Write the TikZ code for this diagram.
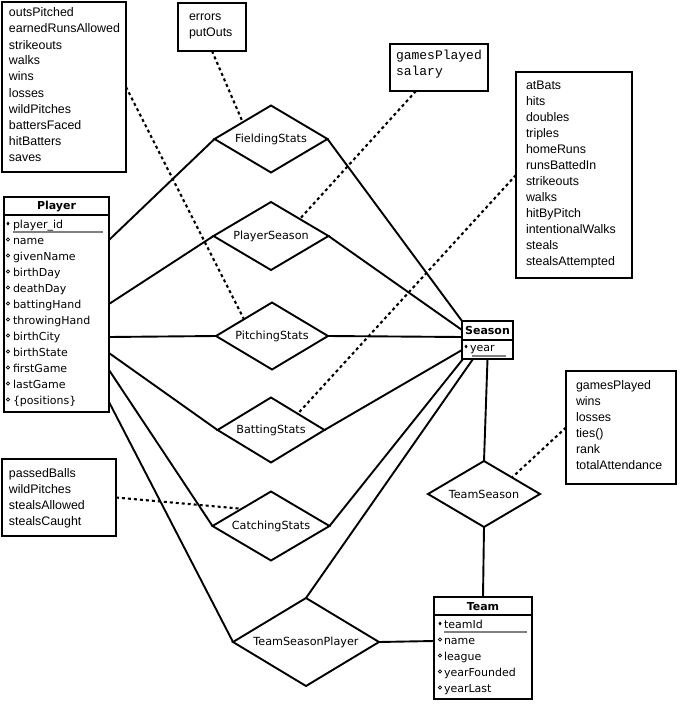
\documentclass[tikz,border=0pt]{standalone}
\usepackage{fontspec}
\setmainfont{DejaVu Sans}
\newfontfamily\attrfont{Liberation Sans}
\newfontfamily\monofnt{Liberation Mono}
\usetikzlibrary{shapes.geometric}
\begin{document}
\begin{tikzpicture}[x=1pt,y=-1pt,
  every node/.style={inner sep=0pt, outer sep=0pt},
  box/.style={draw, line width=1.9pt, rectangle},
  rel/.style={draw, diamond, line width=1.9pt, aspect=1.7, font=\fontsize{11.2}{13}\selectfont},
  conn/.style={line width=1.9pt},
  dconn/.style={line width=2.1pt, dash pattern=on 3pt off 3pt},
  row/.style={anchor=west, font=\fontsize{11}{13}\selectfont, text height=8pt, text depth=2.5pt},
  arow/.style={anchor=west, font=\attrfont\fontsize{12.4}{14}\selectfont, text height=8.5pt, text depth=2.5pt},
  mrow/.style={anchor=west, font=\monofnt\fontsize{13}{15}\selectfont, text height=8pt, text depth=2.5pt},
  titl/.style={font=\bfseries\fontsize{11}{13}\selectfont},
  keyline/.style={draw=gray, line width=1.5pt},
  bul/.style={line width=0.7pt},
]
\useasboundingbox[fill=white] (0,0) rectangle (680,709);

% ---------- Player ----------
\node[box, minimum width=105pt, minimum height=215pt] (player) at (56.5,304.5) {};
\draw[conn] ([yshift=-18pt]player.north west) -- ([yshift=-18pt]player.north east);
\node[titl] (playert) at (56.5,206.5) {Player};
\foreach \t [count=\i] in {player\_id,name,givenName,birthDay,deathDay,battingHand,throwingHand,birthCity,birthState,firstGame,lastGame,\{positions\}}
  \node[row] (prow\i) at (13,{210+16*\i}) {\t};
\fill (8,221.5) -- (9.5,223.5) -- (8,225.5) -- (6.5,223.5) -- cycle;
\foreach \i in {2,...,12}
  \draw[bul] (8,{207.5+16*\i}) circle (1.6pt);
\draw[keyline] (13,232) -- (103,232);

% ---------- Season ----------
\node[box, minimum width=51pt, minimum height=38pt] (season) at (487.5,340) {};
\draw[conn] (season.west) -- (season.east);
\node[titl] (seasont) at (487.5,330.5) {Season};
\node[row] (srow1) at (470,349) {year};
\fill (466,344.5) -- (467.5,346.5) -- (466,348.5) -- (464.5,346.5) -- cycle;
\draw[keyline] (472,356) -- (506,356);

% ---------- Team ----------
\node[box, minimum width=98pt, minimum height=102pt] (team) at (483,648) {};
\draw[conn] ([yshift=-18pt]team.north west) -- ([yshift=-18pt]team.north east);
\node[titl] (teamt) at (483,606.5) {Team};
\foreach \t [count=\i] in {teamId,name,league,yearFounded,yearLast}
  \node[row] (trow\i) at (444,{610+16*\i}) {\t};
\fill (440,621.5) -- (441.5,623.5) -- (440,625.5) -- (438.5,623.5) -- cycle;
\foreach \i in {2,...,5}
  \draw[bul] (440,{607.5+16*\i}) circle (1.6pt);
\draw[keyline] (444,632) -- (527,632);

% ---------- Relationships ----------
\node[rel, minimum width=113pt, minimum height=67pt] (fs) at (271,139) {FieldingStats};
\node[rel, minimum width=115pt, minimum height=68pt] (pse) at (271,236) {PlayerSeason};
\node[rel, minimum width=112pt, minimum height=67pt] (pis) at (272,336) {PitchingStats};
\node[rel, minimum width=107pt, minimum height=65pt] (bs) at (271,430) {BattingStats};
\node[rel, minimum width=117pt, minimum height=69pt] (cs) at (271,526) {CatchingStats};
\node[rel, minimum width=112pt, minimum height=66pt] (ts) at (484,494) {TeamSeason};
\node[rel, minimum width=146pt, minimum height=88pt] (tsp) at (306,642) {TeamSeasonPlayer};

% ---------- Attribute boxes ----------
\node[box, minimum width=124pt, minimum height=170pt] (a1) at (64,87) {};
\foreach \t [count=\i] in {outsPitched,earnedRunsAllowed,strikeouts,walks,wins,losses,wildPitches,battersFaced,hitBatters,saves}
  \node[arow] (a1r\i) at (9,{-2+16*\i}) {\t};

\node[box, minimum width=68pt, minimum height=48pt] (a2) at (212,27) {};
\foreach \t [count=\i] in {errors,putOuts}
  \node[arow] (a2r\i) at (189,{2+16*\i}) {\t};

\node[box, minimum width=98pt, minimum height=47pt] (a3) at (439,67.5) {};
\foreach \t [count=\i] in {gamesPlayed,salary}
  \node[mrow] (a3r\i) at (396,{41+16*\i}) {\t};

\node[box, minimum width=116pt, minimum height=206pt] (a4) at (574,175) {};
\foreach \t [count=\i] in {atBats,hits,doubles,triples,homeRuns,runsBattedIn,strikeouts,walks,hitByPitch,intentionalWalks,steals,stealsAttempted}
  \node[arow] (a4r\i) at (526,{70+16*\i}) {\t};

\node[box, minimum width=110pt, minimum height=113pt] (a5) at (621,427.5) {};
\foreach \t [count=\i] in {gamesPlayed,wins,losses,ties(),rank,totalAttendance}
  \node[arow] (a5r\i) at (576,{370+16*\i}) {\t};

\node[box, minimum width=114pt, minimum height=77pt] (a6) at (59,497.5) {};
\foreach \t [count=\i] in {passedBalls,wildPitches,stealsAllowed,stealsCaught}
  \node[arow] (a6r\i) at (9,{458+16*\i}) {\t};

% ---------- Solid connectors ----------
\draw[conn] ([yshift=-43pt]player.north east) -- (fs.west);
\draw[conn] (fs.east) -- (season.north west);
\draw[conn] ([yshift=-107pt]player.north east) -- (pse.west);
\draw[conn] (pse.east) -- ([yshift=-9pt]season.north west);
\draw[conn] ([yshift=-140pt]player.north east) -- (pis.west);
\draw[conn] (pis.east) -- ([yshift=-16pt]season.north west);
\draw[conn] ([yshift=-156pt]player.north east) -- (bs.west);
\draw[conn] (bs.east) -- ([yshift=-29pt]season.north west);
\draw[conn] ([yshift=-173pt]player.north east) -- (cs.west);
\draw[conn] (cs.east) -- ([xshift=1pt]season.south west);
\draw[conn] ([yshift=-205pt]player.north east) -- (tsp.west);
\draw[conn] (tsp.north) -- ([xshift=11pt]season.south west);
\draw[conn] (tsp.east) -- ([yshift=-44pt]team.north west);
\draw[conn] (season.south) -- (ts.north);
\draw[conn] (ts.south) -- (team.north);

% ---------- Dashed connectors ----------
\draw[dconn] (a1.east) -- (pis.north west);
\draw[dconn] (a2.south) -- (fs.north west);
\draw[dconn] ([xshift=-23pt]a3.south) -- (pse.north east);
\draw[dconn] (a4.west) -- (bs.north east);
\draw[dconn] (a5.west) -- (ts.north east);
\draw[dconn] (a6.east) -- (cs.north west);
\end{tikzpicture}
\end{document}
